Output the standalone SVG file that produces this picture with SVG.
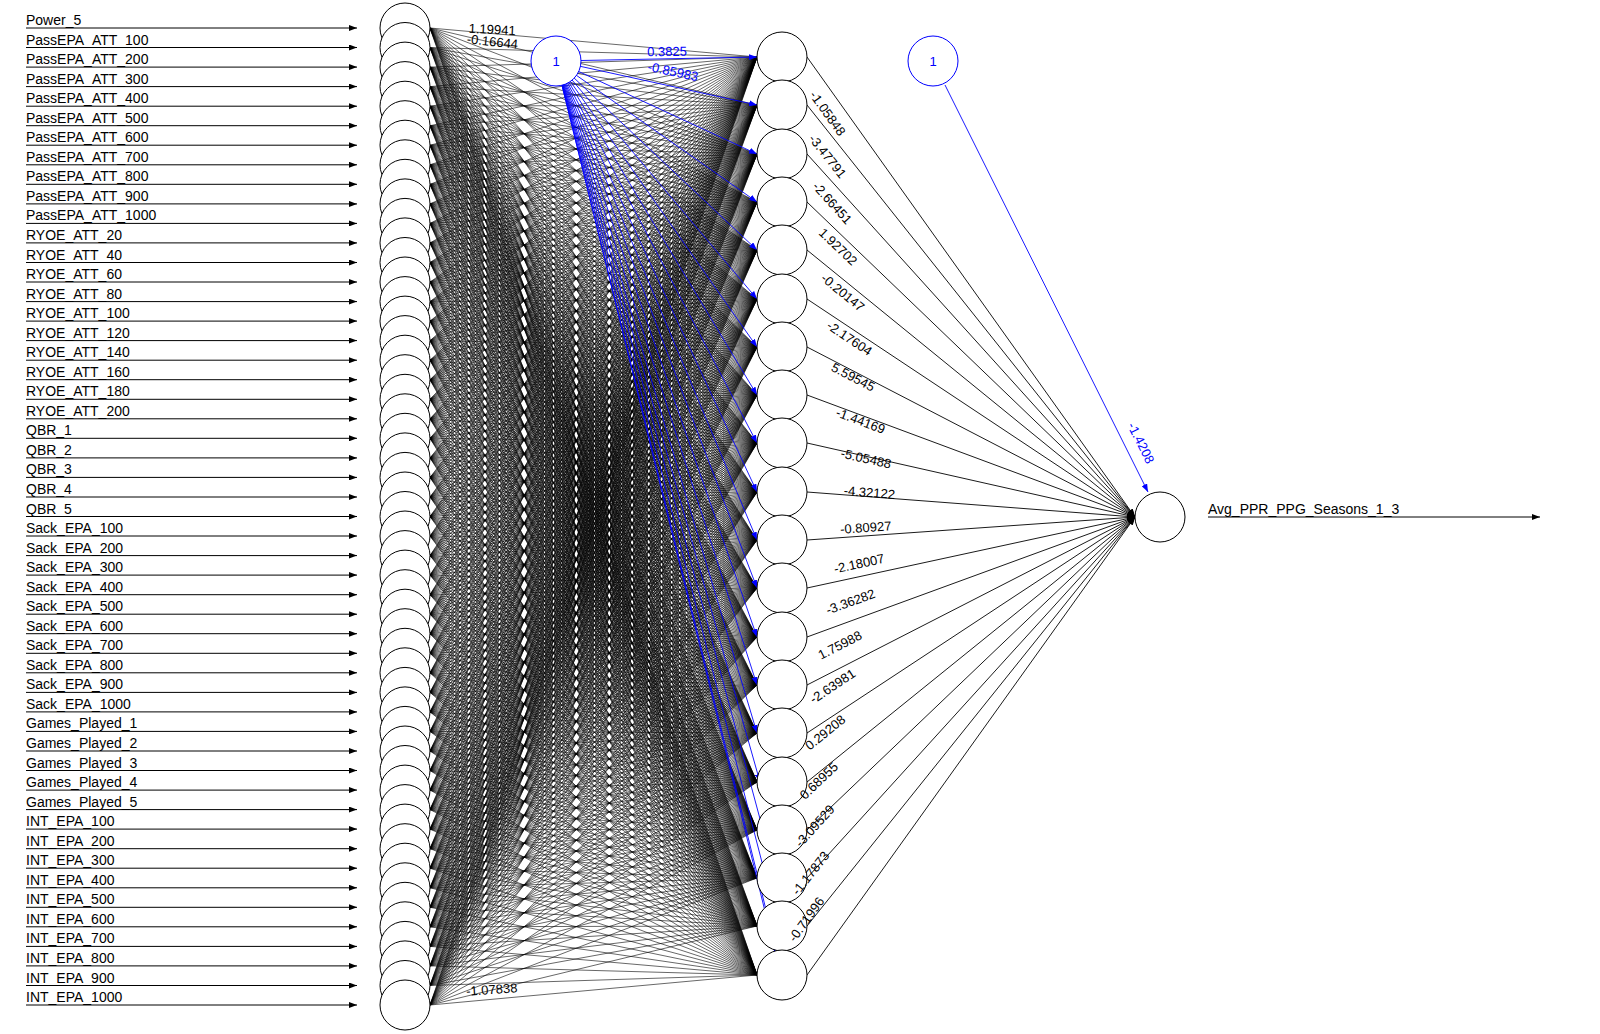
<svg xmlns="http://www.w3.org/2000/svg" xmlns:xlink="http://www.w3.org/1999/xlink" width="1600" height="1034" viewBox="0 0 1600 1034">
<style>
text{font-family:"Liberation Sans",Arial,sans-serif;font-size:14px;fill:#000}
.in{stroke:#000;stroke-width:1;marker-end:url(#ah)}
.fan line{stroke:#000;stroke-width:0.6}
.node{fill:#fff;stroke:#000;stroke-width:1}
.bias{fill:#fff;stroke:#00f;stroke-width:1}
.bl{stroke:#00f;stroke-width:0.9;marker-end:url(#ahb)}
.ol{stroke:#000;stroke-width:0.9;marker-end:url(#ah)}
.w{font-size:13px;text-anchor:middle}
.wb{font-size:13px;text-anchor:middle;fill:#00f}
</style>
<defs>
<marker id="ah" markerWidth="8" markerHeight="6" refX="8" refY="3" orient="auto" markerUnits="userSpaceOnUse"><path d="M0,0L8,3L0,6z" fill="#000"/></marker>
<marker id="ahb" markerWidth="8" markerHeight="6" refX="8" refY="3" orient="auto" markerUnits="userSpaceOnUse"><path d="M0,0L8,3L0,6z" fill="#00f"/></marker>
<g id="fan" class="fan">
<line x1="0" y1="0" x2="327" y2="57" vector-effect="non-scaling-stroke"/><line x1="0" y1="0" x2="327" y2="105" vector-effect="non-scaling-stroke"/><line x1="0" y1="0" x2="327" y2="154" vector-effect="non-scaling-stroke"/><line x1="0" y1="0" x2="327" y2="202" vector-effect="non-scaling-stroke"/><line x1="0" y1="0" x2="327" y2="250" vector-effect="non-scaling-stroke"/><line x1="0" y1="0" x2="327" y2="299" vector-effect="non-scaling-stroke"/><line x1="0" y1="0" x2="327" y2="347" vector-effect="non-scaling-stroke"/><line x1="0" y1="0" x2="327" y2="395" vector-effect="non-scaling-stroke"/><line x1="0" y1="0" x2="327" y2="443" vector-effect="non-scaling-stroke"/><line x1="0" y1="0" x2="327" y2="492" vector-effect="non-scaling-stroke"/><line x1="0" y1="0" x2="327" y2="540" vector-effect="non-scaling-stroke"/><line x1="0" y1="0" x2="327" y2="588" vector-effect="non-scaling-stroke"/><line x1="0" y1="0" x2="327" y2="637" vector-effect="non-scaling-stroke"/><line x1="0" y1="0" x2="327" y2="685" vector-effect="non-scaling-stroke"/><line x1="0" y1="0" x2="327" y2="733" vector-effect="non-scaling-stroke"/><line x1="0" y1="0" x2="327" y2="782" vector-effect="non-scaling-stroke"/><line x1="0" y1="0" x2="327" y2="830" vector-effect="non-scaling-stroke"/><line x1="0" y1="0" x2="327" y2="878" vector-effect="non-scaling-stroke"/><line x1="0" y1="0" x2="327" y2="926" vector-effect="non-scaling-stroke"/><line x1="0" y1="0" x2="327" y2="975" vector-effect="non-scaling-stroke"/>
</g>
</defs>
<rect width="1600" height="1034" fill="#fff"/>
<g id="connectors">
<use xlink:href="#fan" transform="matrix(1,-0.0856,0,1,430,28)"/>
<use xlink:href="#fan" transform="matrix(1,-0.1454,0,1,430,47.54)"/>
<use xlink:href="#fan" transform="matrix(1,-0.2051,0,1,430,67.08)"/>
<use xlink:href="#fan" transform="matrix(1,-0.2649,0,1,430,86.62)"/>
<use xlink:href="#fan" transform="matrix(1,-0.3246,0,1,430,106.16)"/>
<use xlink:href="#fan" transform="matrix(1,-0.3844,0,1,430,125.7)"/>
<use xlink:href="#fan" transform="matrix(1,-0.4442,0,1,430,145.24)"/>
<use xlink:href="#fan" transform="matrix(1,-0.5039,0,1,430,164.78)"/>
<use xlink:href="#fan" transform="matrix(1,-0.5637,0,1,430,184.32)"/>
<use xlink:href="#fan" transform="matrix(1,-0.6234,0,1,430,203.86)"/>
<use xlink:href="#fan" transform="matrix(1,-0.6832,0,1,430,223.4)"/>
<use xlink:href="#fan" transform="matrix(1,-0.7429,0,1,430,242.94)"/>
<use xlink:href="#fan" transform="matrix(1,-0.8027,0,1,430,262.48)"/>
<use xlink:href="#fan" transform="matrix(1,-0.8624,0,1,430,282.02)"/>
<use xlink:href="#fan" transform="matrix(1,-0.9222,0,1,430,301.56)"/>
<use xlink:href="#fan" transform="matrix(1,-0.9820,0,1,430,321.1)"/>
<use xlink:href="#fan" transform="matrix(1,-1.0417,0,1,430,340.64)"/>
<use xlink:href="#fan" transform="matrix(1,-1.1015,0,1,430,360.18)"/>
<use xlink:href="#fan" transform="matrix(1,-1.1612,0,1,430,379.72)"/>
<use xlink:href="#fan" transform="matrix(1,-1.2210,0,1,430,399.26)"/>
<use xlink:href="#fan" transform="matrix(1,-1.2807,0,1,430,418.8)"/>
<use xlink:href="#fan" transform="matrix(1,-1.3405,0,1,430,438.34)"/>
<use xlink:href="#fan" transform="matrix(1,-1.4002,0,1,430,457.88)"/>
<use xlink:href="#fan" transform="matrix(1,-1.4600,0,1,430,477.42)"/>
<use xlink:href="#fan" transform="matrix(1,-1.5198,0,1,430,496.96)"/>
<use xlink:href="#fan" transform="matrix(1,-1.5795,0,1,430,516.5)"/>
<use xlink:href="#fan" transform="matrix(1,-1.6393,0,1,430,536.04)"/>
<use xlink:href="#fan" transform="matrix(1,-1.6990,0,1,430,555.58)"/>
<use xlink:href="#fan" transform="matrix(1,-1.7588,0,1,430,575.12)"/>
<use xlink:href="#fan" transform="matrix(1,-1.8185,0,1,430,594.66)"/>
<use xlink:href="#fan" transform="matrix(1,-1.8783,0,1,430,614.2)"/>
<use xlink:href="#fan" transform="matrix(1,-1.9380,0,1,430,633.74)"/>
<use xlink:href="#fan" transform="matrix(1,-1.9978,0,1,430,653.28)"/>
<use xlink:href="#fan" transform="matrix(1,-2.0575,0,1,430,672.82)"/>
<use xlink:href="#fan" transform="matrix(1,-2.1173,0,1,430,692.36)"/>
<use xlink:href="#fan" transform="matrix(1,-2.1771,0,1,430,711.9)"/>
<use xlink:href="#fan" transform="matrix(1,-2.2368,0,1,430,731.44)"/>
<use xlink:href="#fan" transform="matrix(1,-2.2966,0,1,430,750.98)"/>
<use xlink:href="#fan" transform="matrix(1,-2.3563,0,1,430,770.52)"/>
<use xlink:href="#fan" transform="matrix(1,-2.4161,0,1,430,790.06)"/>
<use xlink:href="#fan" transform="matrix(1,-2.4758,0,1,430,809.6)"/>
<use xlink:href="#fan" transform="matrix(1,-2.5356,0,1,430,829.14)"/>
<use xlink:href="#fan" transform="matrix(1,-2.5953,0,1,430,848.68)"/>
<use xlink:href="#fan" transform="matrix(1,-2.6551,0,1,430,868.22)"/>
<use xlink:href="#fan" transform="matrix(1,-2.7148,0,1,430,887.76)"/>
<use xlink:href="#fan" transform="matrix(1,-2.7746,0,1,430,907.3)"/>
<use xlink:href="#fan" transform="matrix(1,-2.8344,0,1,430,926.84)"/>
<use xlink:href="#fan" transform="matrix(1,-2.8941,0,1,430,946.38)"/>
<use xlink:href="#fan" transform="matrix(1,-2.9539,0,1,430,965.92)"/>
<use xlink:href="#fan" transform="matrix(1,-3.0136,0,1,430,985.46)"/>
<use xlink:href="#fan" transform="matrix(1,-3.0734,0,1,430,1005)"/>
<!-- input arrows -->
<line class="in" x1="26" y1="28" x2="357" y2="28"/><line class="in" x1="26" y1="47.5" x2="357" y2="47.5"/><line class="in" x1="26" y1="67.1" x2="357" y2="67.1"/><line class="in" x1="26" y1="86.6" x2="357" y2="86.6"/><line class="in" x1="26" y1="106.2" x2="357" y2="106.2"/><line class="in" x1="26" y1="125.7" x2="357" y2="125.7"/><line class="in" x1="26" y1="145.2" x2="357" y2="145.2"/><line class="in" x1="26" y1="164.8" x2="357" y2="164.8"/><line class="in" x1="26" y1="184.3" x2="357" y2="184.3"/><line class="in" x1="26" y1="203.9" x2="357" y2="203.9"/><line class="in" x1="26" y1="223.4" x2="357" y2="223.4"/><line class="in" x1="26" y1="242.9" x2="357" y2="242.9"/><line class="in" x1="26" y1="262.5" x2="357" y2="262.5"/><line class="in" x1="26" y1="282" x2="357" y2="282"/><line class="in" x1="26" y1="301.6" x2="357" y2="301.6"/><line class="in" x1="26" y1="321.1" x2="357" y2="321.1"/><line class="in" x1="26" y1="340.6" x2="357" y2="340.6"/><line class="in" x1="26" y1="360.2" x2="357" y2="360.2"/><line class="in" x1="26" y1="379.7" x2="357" y2="379.7"/><line class="in" x1="26" y1="399.3" x2="357" y2="399.3"/><line class="in" x1="26" y1="418.8" x2="357" y2="418.8"/><line class="in" x1="26" y1="438.3" x2="357" y2="438.3"/><line class="in" x1="26" y1="457.9" x2="357" y2="457.9"/><line class="in" x1="26" y1="477.4" x2="357" y2="477.4"/><line class="in" x1="26" y1="497" x2="357" y2="497"/><line class="in" x1="26" y1="516.5" x2="357" y2="516.5"/><line class="in" x1="26" y1="536" x2="357" y2="536"/><line class="in" x1="26" y1="555.6" x2="357" y2="555.6"/><line class="in" x1="26" y1="575.1" x2="357" y2="575.1"/><line class="in" x1="26" y1="594.7" x2="357" y2="594.7"/><line class="in" x1="26" y1="614.2" x2="357" y2="614.2"/><line class="in" x1="26" y1="633.7" x2="357" y2="633.7"/><line class="in" x1="26" y1="653.3" x2="357" y2="653.3"/><line class="in" x1="26" y1="672.8" x2="357" y2="672.8"/><line class="in" x1="26" y1="692.4" x2="357" y2="692.4"/><line class="in" x1="26" y1="711.9" x2="357" y2="711.9"/><line class="in" x1="26" y1="731.4" x2="357" y2="731.4"/><line class="in" x1="26" y1="751" x2="357" y2="751"/><line class="in" x1="26" y1="770.5" x2="357" y2="770.5"/><line class="in" x1="26" y1="790.1" x2="357" y2="790.1"/><line class="in" x1="26" y1="809.6" x2="357" y2="809.6"/><line class="in" x1="26" y1="829.1" x2="357" y2="829.1"/><line class="in" x1="26" y1="848.7" x2="357" y2="848.7"/><line class="in" x1="26" y1="868.2" x2="357" y2="868.2"/><line class="in" x1="26" y1="887.8" x2="357" y2="887.8"/><line class="in" x1="26" y1="907.3" x2="357" y2="907.3"/><line class="in" x1="26" y1="926.8" x2="357" y2="926.8"/><line class="in" x1="26" y1="946.4" x2="357" y2="946.4"/><line class="in" x1="26" y1="965.9" x2="357" y2="965.9"/><line class="in" x1="26" y1="985.5" x2="357" y2="985.5"/><line class="in" x1="26" y1="1005" x2="357" y2="1005"/>
<!-- bias to hidden -->
<line class="bl" x1="556" y1="61" x2="757" y2="57"/><line class="bl" x1="556" y1="61" x2="757" y2="105"/><line class="bl" x1="556" y1="61" x2="757" y2="154"/><line class="bl" x1="556" y1="61" x2="757" y2="202"/><line class="bl" x1="556" y1="61" x2="757" y2="250"/><line class="bl" x1="556" y1="61" x2="757" y2="299"/><line class="bl" x1="556" y1="61" x2="757" y2="347"/><line class="bl" x1="556" y1="61" x2="757" y2="395"/><line class="bl" x1="556" y1="61" x2="757" y2="443"/><line class="bl" x1="556" y1="61" x2="757" y2="492"/><line class="bl" x1="556" y1="61" x2="757" y2="540"/><line class="bl" x1="556" y1="61" x2="757" y2="588"/><line class="bl" x1="556" y1="61" x2="757" y2="637"/><line class="bl" x1="556" y1="61" x2="757" y2="685"/><line class="bl" x1="556" y1="61" x2="757" y2="733"/><line class="bl" x1="556" y1="61" x2="760" y2="782"/><line class="bl" x1="556" y1="61" x2="763" y2="830"/><line class="bl" x1="556" y1="61" x2="766" y2="878"/><line class="bl" x1="556" y1="61" x2="770" y2="926"/><line class="bl" x1="556" y1="61" x2="775" y2="952"/>
<!-- hidden to output -->
<line class="ol" x1="807" y1="57" x2="1135" y2="517"/><line class="ol" x1="807" y1="105" x2="1135" y2="517"/><line class="ol" x1="807" y1="154" x2="1135" y2="517"/><line class="ol" x1="807" y1="202" x2="1135" y2="517"/><line class="ol" x1="807" y1="250" x2="1135" y2="517"/><line class="ol" x1="807" y1="299" x2="1135" y2="517"/><line class="ol" x1="807" y1="347" x2="1135" y2="517"/><line class="ol" x1="807" y1="395" x2="1135" y2="517"/><line class="ol" x1="807" y1="443" x2="1135" y2="517"/><line class="ol" x1="807" y1="492" x2="1135" y2="517"/><line class="ol" x1="807" y1="540" x2="1135" y2="517"/><line class="ol" x1="807" y1="588" x2="1135" y2="517"/><line class="ol" x1="807" y1="637" x2="1135" y2="517"/><line class="ol" x1="807" y1="685" x2="1135" y2="517"/><line class="ol" x1="807" y1="733" x2="1135" y2="517"/><line class="ol" x1="807" y1="782" x2="1135" y2="517"/><line class="ol" x1="807" y1="830" x2="1135" y2="517"/><line class="ol" x1="807" y1="878" x2="1135" y2="517"/><line class="ol" x1="807" y1="926" x2="1135" y2="517"/><line class="ol" x1="807" y1="975" x2="1135" y2="517"/>
<line class="bl" x1="945" y1="85" x2="1148" y2="492"/>
<line class="in" x1="1208" y1="517" x2="1540" y2="517"/>
</g>
<g id="labels">
<text x="26" y="25">Power_5</text><text x="26" y="44.5">PassEPA_ATT_100</text><text x="26" y="64.1">PassEPA_ATT_200</text><text x="26" y="83.6">PassEPA_ATT_300</text><text x="26" y="103.2">PassEPA_ATT_400</text><text x="26" y="122.7">PassEPA_ATT_500</text><text x="26" y="142.2">PassEPA_ATT_600</text><text x="26" y="161.8">PassEPA_ATT_700</text><text x="26" y="181.3">PassEPA_ATT_800</text><text x="26" y="200.9">PassEPA_ATT_900</text><text x="26" y="220.4">PassEPA_ATT_1000</text><text x="26" y="239.9">RYOE_ATT_20</text><text x="26" y="259.5">RYOE_ATT_40</text><text x="26" y="279">RYOE_ATT_60</text><text x="26" y="298.6">RYOE_ATT_80</text><text x="26" y="318.1">RYOE_ATT_100</text><text x="26" y="337.6">RYOE_ATT_120</text><text x="26" y="357.2">RYOE_ATT_140</text><text x="26" y="376.7">RYOE_ATT_160</text><text x="26" y="396.3">RYOE_ATT_180</text><text x="26" y="415.8">RYOE_ATT_200</text><text x="26" y="435.3">QBR_1</text><text x="26" y="454.9">QBR_2</text><text x="26" y="474.4">QBR_3</text><text x="26" y="494">QBR_4</text><text x="26" y="513.5">QBR_5</text><text x="26" y="533">Sack_EPA_100</text><text x="26" y="552.6">Sack_EPA_200</text><text x="26" y="572.1">Sack_EPA_300</text><text x="26" y="591.7">Sack_EPA_400</text><text x="26" y="611.2">Sack_EPA_500</text><text x="26" y="630.7">Sack_EPA_600</text><text x="26" y="650.3">Sack_EPA_700</text><text x="26" y="669.8">Sack_EPA_800</text><text x="26" y="689.4">Sack_EPA_900</text><text x="26" y="708.9">Sack_EPA_1000</text><text x="26" y="728.4">Games_Played_1</text><text x="26" y="748">Games_Played_2</text><text x="26" y="767.5">Games_Played_3</text><text x="26" y="787.1">Games_Played_4</text><text x="26" y="806.6">Games_Played_5</text><text x="26" y="826.1">INT_EPA_100</text><text x="26" y="845.7">INT_EPA_200</text><text x="26" y="865.2">INT_EPA_300</text><text x="26" y="884.8">INT_EPA_400</text><text x="26" y="904.3">INT_EPA_500</text><text x="26" y="923.8">INT_EPA_600</text><text x="26" y="943.4">INT_EPA_700</text><text x="26" y="962.9">INT_EPA_800</text><text x="26" y="982.5">INT_EPA_900</text><text x="26" y="1002">INT_EPA_1000</text>
<text x="1208" y="514">Avg_PPR_PPG_Seasons_1_3</text>
</g>
<g id="inputs">
<circle class="node" cx="405" cy="28" r="25"/><circle class="node" cx="405" cy="47.5" r="25"/><circle class="node" cx="405" cy="67.1" r="25"/><circle class="node" cx="405" cy="86.6" r="25"/><circle class="node" cx="405" cy="106.2" r="25"/><circle class="node" cx="405" cy="125.7" r="25"/><circle class="node" cx="405" cy="145.2" r="25"/><circle class="node" cx="405" cy="164.8" r="25"/><circle class="node" cx="405" cy="184.3" r="25"/><circle class="node" cx="405" cy="203.9" r="25"/><circle class="node" cx="405" cy="223.4" r="25"/><circle class="node" cx="405" cy="242.9" r="25"/><circle class="node" cx="405" cy="262.5" r="25"/><circle class="node" cx="405" cy="282" r="25"/><circle class="node" cx="405" cy="301.6" r="25"/><circle class="node" cx="405" cy="321.1" r="25"/><circle class="node" cx="405" cy="340.6" r="25"/><circle class="node" cx="405" cy="360.2" r="25"/><circle class="node" cx="405" cy="379.7" r="25"/><circle class="node" cx="405" cy="399.3" r="25"/><circle class="node" cx="405" cy="418.8" r="25"/><circle class="node" cx="405" cy="438.3" r="25"/><circle class="node" cx="405" cy="457.9" r="25"/><circle class="node" cx="405" cy="477.4" r="25"/><circle class="node" cx="405" cy="497" r="25"/><circle class="node" cx="405" cy="516.5" r="25"/><circle class="node" cx="405" cy="536" r="25"/><circle class="node" cx="405" cy="555.6" r="25"/><circle class="node" cx="405" cy="575.1" r="25"/><circle class="node" cx="405" cy="594.7" r="25"/><circle class="node" cx="405" cy="614.2" r="25"/><circle class="node" cx="405" cy="633.7" r="25"/><circle class="node" cx="405" cy="653.3" r="25"/><circle class="node" cx="405" cy="672.8" r="25"/><circle class="node" cx="405" cy="692.4" r="25"/><circle class="node" cx="405" cy="711.9" r="25"/><circle class="node" cx="405" cy="731.4" r="25"/><circle class="node" cx="405" cy="751" r="25"/><circle class="node" cx="405" cy="770.5" r="25"/><circle class="node" cx="405" cy="790.1" r="25"/><circle class="node" cx="405" cy="809.6" r="25"/><circle class="node" cx="405" cy="829.1" r="25"/><circle class="node" cx="405" cy="848.7" r="25"/><circle class="node" cx="405" cy="868.2" r="25"/><circle class="node" cx="405" cy="887.8" r="25"/><circle class="node" cx="405" cy="907.3" r="25"/><circle class="node" cx="405" cy="926.8" r="25"/><circle class="node" cx="405" cy="946.4" r="25"/><circle class="node" cx="405" cy="965.9" r="25"/><circle class="node" cx="405" cy="985.5" r="25"/><circle class="node" cx="405" cy="1005" r="25"/>
</g>
<g id="hidden">
<circle class="node" cx="782" cy="57" r="25"/><circle class="node" cx="782" cy="105" r="25"/><circle class="node" cx="782" cy="154" r="25"/><circle class="node" cx="782" cy="202" r="25"/><circle class="node" cx="782" cy="250" r="25"/><circle class="node" cx="782" cy="299" r="25"/><circle class="node" cx="782" cy="347" r="25"/><circle class="node" cx="782" cy="395" r="25"/><circle class="node" cx="782" cy="443" r="25"/><circle class="node" cx="782" cy="492" r="25"/><circle class="node" cx="782" cy="540" r="25"/><circle class="node" cx="782" cy="588" r="25"/><circle class="node" cx="782" cy="637" r="25"/><circle class="node" cx="782" cy="685" r="25"/><circle class="node" cx="782" cy="733" r="25"/><circle class="node" cx="782" cy="782" r="25"/><circle class="node" cx="782" cy="830" r="25"/><circle class="node" cx="782" cy="878" r="25"/><circle class="node" cx="782" cy="926" r="25"/><circle class="node" cx="782" cy="975" r="25"/>
</g>
<g id="bias1"><circle class="bias" cx="556" cy="61" r="25"/><text x="556" y="66" class="wb">1</text></g>
<g id="bias2"><circle class="bias" cx="933" cy="61" r="25"/><text x="933" y="66" class="wb">1</text></g>
<g id="output"><circle class="node" cx="1160" cy="517" r="25"/></g>
<g id="weights">
<text class="w" transform="translate(492,34) rotate(3)">1.19941</text>
<text class="w" transform="translate(492,46) rotate(6)">-0.16644</text>
<text class="w" transform="translate(492,994) rotate(-4)">-1.07838</text>
<text class="wb" transform="translate(667,56) rotate(-1)">0.3825</text>
<text class="wb" transform="translate(672,76) rotate(12)">-0.85983</text>
<text class="wb" transform="translate(1137,445) rotate(63.5)">-1.4208</text>
<text class="w" transform="translate(824,116) rotate(54.5)">-1.05848</text>
<text class="w" transform="translate(824,159) rotate(51.5)">-3.47791</text>
<text class="w" transform="translate(829,206) rotate(47.9)">-2.66451</text>
<text class="w" transform="translate(835,250) rotate(43.8)">1.92702</text>
<text class="w" transform="translate(840,296) rotate(39.1)">-0.20147</text>
<text class="w" transform="translate(847,342) rotate(33.6)">-2.17604</text>
<text class="w" transform="translate(851,381) rotate(27.4)">5.59545</text>
<text class="w" transform="translate(859,425) rotate(20.4)">-1.44169</text>
<text class="w" transform="translate(865,463) rotate(12.7)">-5.05488</text>
<text class="w" transform="translate(869,497) rotate(4.4)">-4.32122</text>
<text class="w" transform="translate(866,532) rotate(-4)">-0.80927</text>
<text class="w" transform="translate(860,568) rotate(-12.2)">-2.18007</text>
<text class="w" transform="translate(852,606) rotate(-20.1)">-3.36282</text>
<text class="w" transform="translate(842,649) rotate(-27.1)">1.75988</text>
<text class="w" transform="translate(835,690) rotate(-33.4)">-2.63981</text>
<text class="w" transform="translate(828,736) rotate(-38.9)">0.29208</text>
<text class="w" transform="translate(822,784) rotate(-43.7)">0.68955</text>
<text class="w" transform="translate(818,829) rotate(-47.7)">-3.09529</text>
<text class="w" transform="translate(814,876) rotate(-51.3)">-1.17873</text>
<text class="w" transform="translate(810,922) rotate(-54.4)">-0.71996</text>
</g>
</svg>
